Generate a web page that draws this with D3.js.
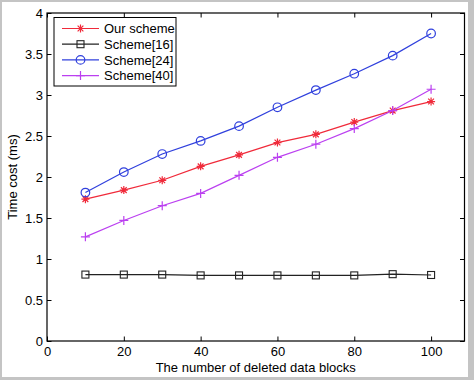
<!DOCTYPE html>
<html><head><meta charset="utf-8">
<script src="https://cdn.jsdelivr.net/npm/d3@7"></script>
<style>html,body{margin:0;padding:0;background:#fff;}svg{display:block;}</style>
</head><body>
<script>
const xValues = [10, 20, 30, 40, 50, 60, 70, 80, 90, 100];
const ourScheme = [1.73, 1.84, 1.96, 2.13, 2.27, 2.42, 2.52, 2.67, 2.81, 2.92];
const scheme16 = [0.81, 0.81, 0.81, 0.80, 0.80, 0.80, 0.80, 0.80, 0.815, 0.805];
const scheme24 = [1.81, 2.06, 2.28, 2.44, 2.62, 2.85, 3.06, 3.26, 3.48, 3.75];
const scheme40 = [1.27, 1.47, 1.65, 1.80, 2.02, 2.24, 2.40, 2.59, 2.81, 3.07];
const seriesNames = ["Our scheme", "Scheme[16]", "Scheme[24]", "Scheme[40]"];
const xTicks = [0, 20, 40, 60, 80, 100];
const yTicks = [0, 0.5, 1, 1.5, 2, 2.5, 3, 3.5, 4];
const xLabel = "The number of deleted data blocks";
const yLabel = "Time cost (ms)";

const W = 474, H = 380;
const L = 47, R = 464.5, T = 13, B = 341;
const svg = d3.select("body").append("svg").attr("width", W).attr("height", H);
const font = "'Liberation Sans', Arial, Helvetica, sans-serif";

// outer light gray frame
svg.append("rect").attr("x",0).attr("y",0).attr("width",W).attr("height",H).attr("fill","#c4c4c4");
svg.append("rect").attr("x",2).attr("y",2).attr("width",466).attr("height",375).attr("fill","#fff");

const x = d3.scaleLinear().domain([0, 108.7]).range([L, R]);
const y = d3.scaleLinear().domain([0, 4]).range([B, T]);

// frame
svg.append("rect").attr("x",L).attr("y",T).attr("width",R-L).attr("height",B-T)
  .attr("fill","none").attr("stroke","#000").attr("stroke-width",1.2);

const tl = 4.5;
const xAxis = svg.append("g").attr("transform",`translate(0,${B})`)
  .call(d3.axisBottom(x).tickValues(xTicks).tickSize(-tl).tickPadding(6).tickFormat(d3.format("d")));
const xAxisTop = svg.append("g").attr("transform",`translate(0,${T})`)
  .call(d3.axisTop(x).tickValues(xTicks).tickSize(-tl).tickFormat(""));
const yAxis = svg.append("g").attr("transform",`translate(${L},0)`)
  .call(d3.axisLeft(y).tickValues(yTicks).tickSize(-tl).tickPadding(4).tickFormat(d => String(d)));
const yAxisR = svg.append("g").attr("transform",`translate(${R},0)`)
  .call(d3.axisRight(y).tickValues(yTicks).tickSize(-tl).tickFormat(""));
[xAxis, xAxisTop, yAxis, yAxisR].forEach(g => {
  g.select(".domain").remove();
  g.selectAll("line").attr("stroke","#000").attr("stroke-width",1);
  g.selectAll("text").attr("font-family",font).attr("font-size","13px").attr("fill","#000");
});

const colors = ["#f02a3a", "#222222", "#3040dd", "#bb40f0"];
const datasets = [ourScheme, scheme16, scheme24, scheme40];
const markers = ["star", "square", "circle", "plus"];

function drawMarker(g, type, cx, cy, color) {
  if (type === "circle") {
    g.append("circle").attr("cx",cx).attr("cy",cy).attr("r",4.3)
      .attr("fill","none").attr("stroke",color).attr("stroke-width",1.2);
  } else if (type === "square") {
    g.append("rect").attr("x",cx-3.5).attr("y",cy-3.5).attr("width",7).attr("height",7)
      .attr("fill","none").attr("stroke",color).attr("stroke-width",1.1);
  } else if (type === "plus") {
    g.append("path").attr("d",`M${cx-4.5},${cy}H${cx+4.5}M${cx},${cy-4.5}V${cy+4.5}`)
      .attr("stroke",color).attr("stroke-width",1.2);
  } else {
    const r = 4, d = r*0.72;
    g.append("path").attr("d",`M${cx-r},${cy}H${cx+r}M${cx},${cy-r}V${cy+r}M${cx-d},${cy-d}L${cx+d},${cy+d}M${cx-d},${cy+d}L${cx+d},${cy-d}`)
      .attr("stroke",color).attr("stroke-width",1.2);
  }
}

const line = d3.line().x(d => x(d[0])).y(d => y(d[1]));
datasets.forEach((vals, i) => {
  const pts = xValues.map((xv, j) => [xv, vals[j]]);
  const g = svg.append("g");
  g.append("path").attr("d", line(pts)).attr("fill","none").attr("stroke",colors[i]).attr("stroke-width",1.2);
  pts.forEach(p => drawMarker(g, markers[i], x(p[0]), y(p[1]), colors[i]));
});

// legend
const lg = svg.append("g");
lg.append("rect").attr("x",54).attr("y",17.5).attr("width",122).attr("height",68.5)
  .attr("fill","#fff").attr("stroke","#000").attr("stroke-width",1);
seriesNames.forEach((name, i) => {
  const ly = 28.5 + i*15.7;
  lg.append("line").attr("x1",62).attr("x2",99).attr("y1",ly).attr("y2",ly)
    .attr("stroke",colors[i]).attr("stroke-width",1.2);
  drawMarker(lg, markers[i], 80.5, ly, colors[i]);
  lg.append("text").attr("x",104).attr("y",ly).attr("dy","0.36em")
    .attr("font-family",font).attr("font-size","13px").attr("fill","#000").text(name);
});

// axis labels
svg.append("text").attr("x",(L+R)/2 + 0).attr("y",371.5).attr("text-anchor","middle")
  .attr("font-family",font).attr("font-size","13px").attr("fill","#000").text(xLabel);
svg.append("text").attr("transform",`translate(16.5,${(T+B)/2}) rotate(-90)`).attr("text-anchor","middle")
  .attr("font-family",font).attr("font-size","13px").attr("fill","#000").text(yLabel);
</script>
</body></html>
